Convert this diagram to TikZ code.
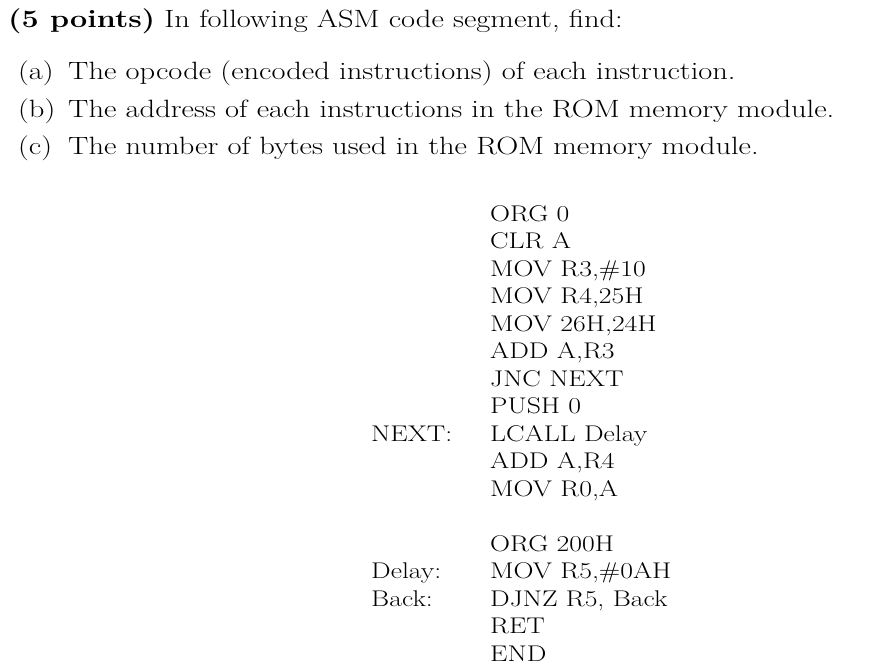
\documentclass[tikz,border=0pt]{standalone}
\usepackage{fontspec}
\setmainfont[FakeStretch=1.22]{Latin Modern Roman}
\begin{document}
\begin{tikzpicture}[x=1pt,y=-1pt,
  txt/.style={anchor=base west,inner sep=0pt,font=\fontsize{25}{29}\selectfont},
  code/.style={anchor=base west,inner sep=0pt,font=\fontsize{22.7}{26}\selectfont}]
\useasboundingbox (0,0) rectangle (886,669);
\node[txt] (t0) at (8,28) {\textbf{(5 points)} In following ASM code segment, find:};
\node[txt] (la) at (18,80) {(a)};
\node[txt] (ta) at (68,80) {The opcode (encoded instructions) of each instruction.};
\node[txt] (lb) at (18,117) {(b)};
\node[txt] (tb) at (68,117) {The address of each instructions in the ROM memory module.};
\node[txt] (lc) at (18,154) {(c)};
\node[txt] (tc) at (68,154) {The number of bytes used in the ROM memory module.};
\foreach \t [count=\i from 0] in {ORG 0,CLR A,{MOV R3,\#10},{MOV R4,25H},{MOV 26H,24H},{ADD A,R3},JNC NEXT,PUSH 0,LCALL Delay,{ADD A,R4},{MOV R0,A}}
  \node[code] (c\i) at (490,221+27.5*\i) {\t};
\foreach \t [count=\i from 0] in {ORG 200H,{MOV R5,\#0AH},{DJNZ R5, Back},RET,END}
  \node[code] (d\i) at (490,551+27.5*\i) {\t};
\node[code] (lnext) at (371,441) {NEXT:};
\node[code] (ldelay) at (371,578.5) {Delay:};
\node[code] (lback) at (371,606) {Back:};
\end{tikzpicture}
\end{document}
